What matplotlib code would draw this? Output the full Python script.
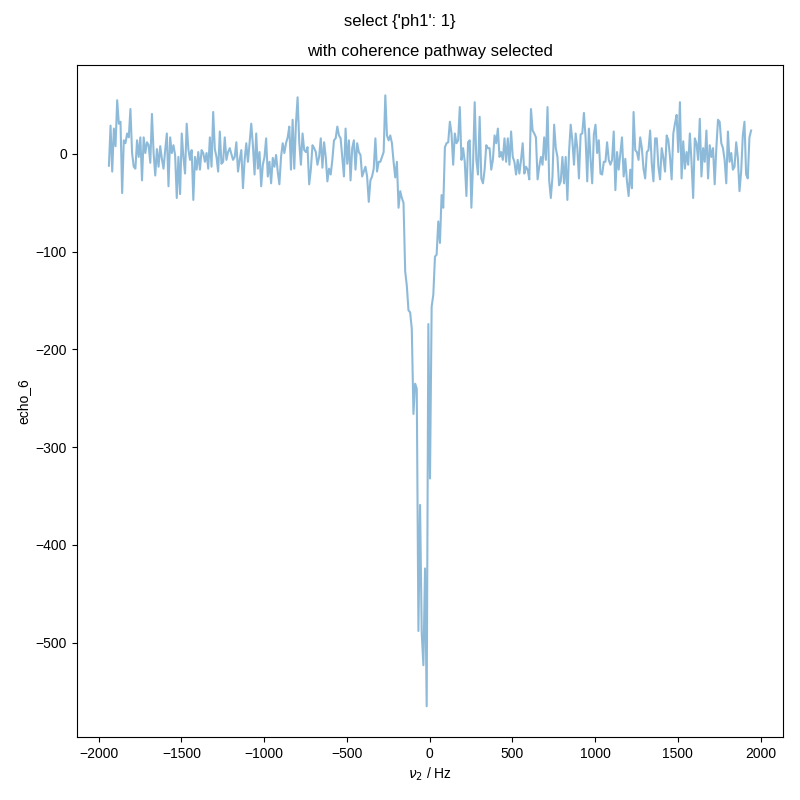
import numpy as np
import matplotlib
matplotlib.use("Agg")
import matplotlib.pyplot as plt

plt.rcParams["font.family"] = ["Liberation Sans", "DejaVu Sans"]

# frequency grid (Hz): first point and spacing
f_start = -1938.0
f_step = 10.0

# echo_6 values
echo_6 = [
    -12, 29, -18, 26, 8, 55, 31, 33, -40, 14,
    11, 21, 17, 46, 1, -13, -15, 14, -3, 17,
    -27, 17, 1, 12, 9, -9, 41, 1, -22, 5,
    -13, 8, -5, -15, 4, 21, -33, 17, 1, 9,
    -1, -45, -3, -41, 21, -3, -20, 31, 5, -6,
    4, -47, -3, -16, 2, -16, 4, 1, -8, 1,
    -15, 17, -13, 43, 5, -3, -18, 23, -10, -8,
    17, -6, 2, 6, 0, -6, -3, 12, -18, -6,
    4, -35, -6, 11, -8, 12, 31, 9, -21, 21,
    -15, 2, -33, -11, -3, 16, -23, -8, -30, -4,
    -13, -1, -18, -31, -3, 11, 1, 11, 17, 28,
    -16, 35, -15, 31, 58, 12, -11, 21, 4, 2,
    7, -31, -16, 9, 6, 2, -11, -3, 16, -14,
    12, -3, -28, -15, -21, -6, 14, 16, 28, 19,
    16, -4, -23, 26, -10, 14, -27, 6, 14, -16,
    11, 2, -1, -23, -18, -13, -23, -49, -27, -23,
    -15, 16, -18, -8, -8, -3, 2, 60, 19, 14,
    19, 11, -8, -24, -8, -55, -38, -45, -50, -120,
    -135, -160, -162, -179, -266, -235, -240, -488, -359, -490,
    -523, -424, -565, -174, -332, -156, -144, -105, -103, -69,
    -91, -42, -55, 7, 11, 12, 33, 21, -11, 21,
    11, 14, 48, -6, 6, -8, -43, 12, 14, -55,
    -11, 53, -6, -21, 38, -25, -30, -16, 9, 6,
    6, -16, -6, 19, 11, 26, -3, 2, -6, 16,
    -8, 16, -11, 23, -3, -8, -21, -6, -20, -6,
    11, -20, -13, -16, -26, 46, 24, 21, 17, -26,
    -13, -3, -11, 17, -6, 48, -27, -45, -23, 30,
    6, -3, -32, -28, -3, -30, -3, -47, 2, 30,
    14, -11, 21, 6, -25, 20, 21, 42, 17, -28,
    26, -5, -30, 20, 30, 1, 14, -20, -21, -8,
    -8, 12, -6, -11, -6, 23, -37, 2, -16, 1,
    17, -23, -5, -28, -43, -16, -35, 43, 4, 2,
    -6, 17, 6, -15, -25, 2, 4, 24, -10, -28,
    16, 16, -13, -26, 6, -4, -18, 19, 14, -3,
    -26, 21, 31, 40, 2, 53, -25, 13, -15, 2,
    -11, 21, -8, -45, 16, 11, -6, 36, -23, 6,
    -8, 24, -25, 9, -3, 6, -31, 6, 35, 33,
    11, 6, -6, -30, 23, -8, 1, -16, -13, 12,
    -4, -38, -18, 19, 33, -21, -25, 17, 24,
]

nu2 = f_start + f_step * np.arange(len(echo_6))

fig = plt.figure(figsize=(8, 8), dpi=100)
ax = fig.add_axes([0.096, 0.079, 0.883, 0.840])
ax.plot(nu2, echo_6, color="#1f77b4", alpha=0.5)
ax.set_title("with coherence pathway selected")
ax.set_xlabel(r"$\nu_2$ / Hz")
ax.set_ylabel("echo_6")
fig.suptitle("select {'ph1': 1}", y=0.983)

fig.savefig("out.png", dpi=100)
